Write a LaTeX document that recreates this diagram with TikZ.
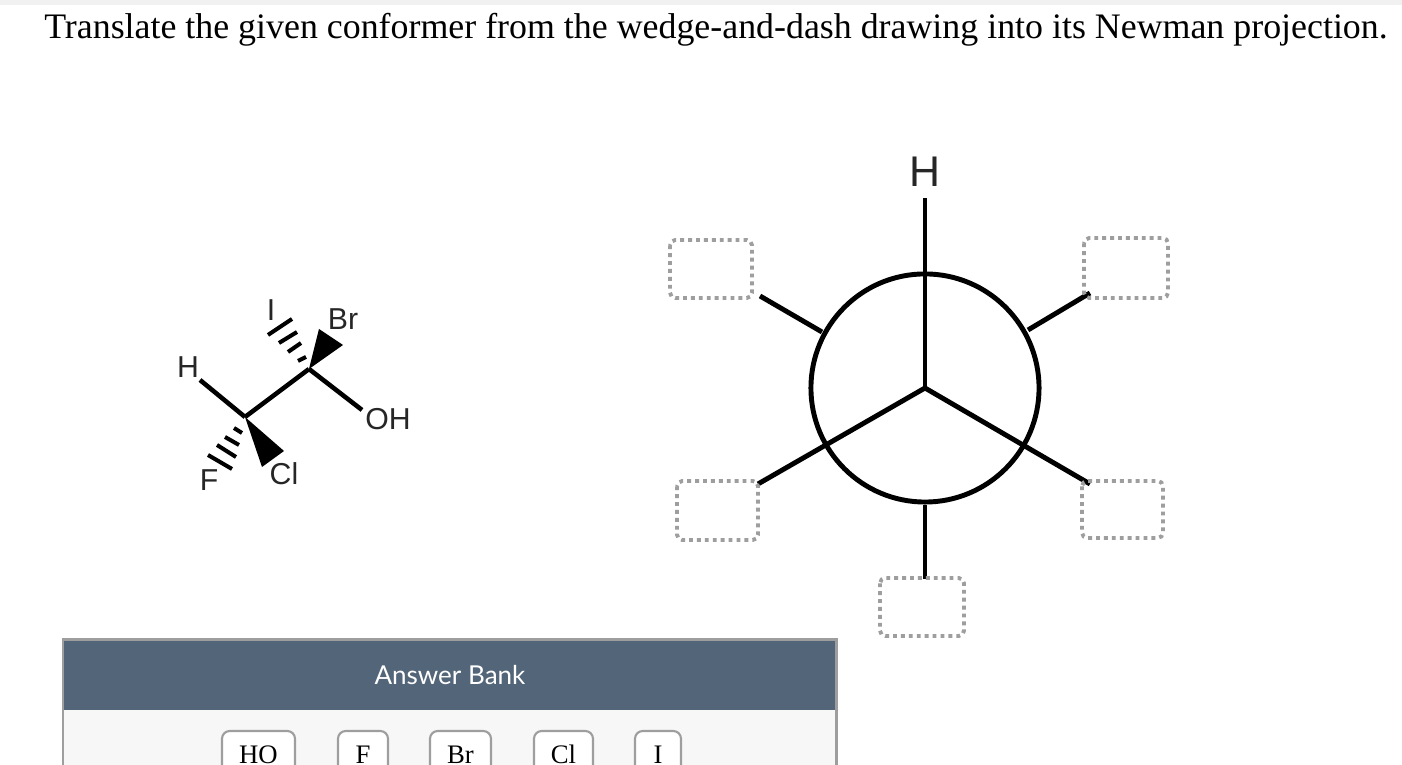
\documentclass[tikz,border=0pt]{standalone}
\usepackage{fontspec}
\setmainfont{Liberation Serif}
\newfontfamily\atomfont{Liberation Sans}
\newfontfamily\bankfont{Lato}
\definecolor{bankhead}{HTML}{526579}
\definecolor{bankbody}{HTML}{F7F7F7}
\definecolor{bankline}{HTML}{9E9E9E}
\definecolor{topstrip}{HTML}{F1F1F1}
\tikzset{
  title/.style={inner sep=0pt, anchor=base, font=\fontsize{10.2}{13}\selectfont},
  atom/.style={inner sep=0pt, font=\atomfont\fontsize{8.6}{10}\selectfont, text=black!85},
  bigatom/.style={inner sep=0pt, font=\atomfont\fontsize{12.2}{14}\selectfont, text=black!85},
  bond/.style={line width=1.3pt, draw=black},
  hash/.style={line width=1.15pt, draw=black},
  spoke/.style={line width=1.4pt, draw=black},
  dropbox/.style={draw=bankline, line width=1.1pt, dash pattern=on 1.1pt off 1.15pt, rounded corners=1.5pt},
  bankbutton/.style={draw=bankline, fill=white, line width=0.6pt, rounded corners=2.2pt},
  banktext/.style={inner sep=0pt, anchor=base, font=\fontsize{7.6}{9}\selectfont},
}
\begin{document}
\begin{tikzpicture}[x=0.01cm, y=-0.01cm]
  \clip (0,0) rectangle (1402,765);
  \fill[white] (0,0) rectangle (1402,765);
  \fill[topstrip] (0,0) rectangle (1402,5);

  \node[title] (question) at (716,39) {Translate the given conformer from the wedge-and-dash drawing into its Newman projection.};

  \coordinate (c1) at (245,417);
  \coordinate (c2) at (309,369);
  \coordinate (hend) at (200,380);
  \coordinate (ohend) at (362,410);
  \coordinate (bra) at (319,329);
  \coordinate (brb) at (343,345);
  \coordinate (cla) at (284,451);
  \coordinate (clb) at (262,467);

  \node[atom] (iatom)  at (271,310) {I};
  \node[atom] (bratom) at (343,319) {Br};
  \node[atom] (hatom)  at (188,367) {H};
  \node[atom] (ohatom) at (388,419) {OH};
  \node[atom] (fatom)  at (209,480) {F};
  \node[atom] (clatom) at (284,474) {Cl};

  \draw[bond] (c1) -- (c2);
  \draw[bond] (c1) -- (hend);
  \draw[bond] (c2) -- (ohend);
  \fill (c2) -- (bra) -- (brb) -- cycle;
  \fill (c1) -- (cla) -- (clb) -- cycle;

  \coordinate (i1a) at (268,335);
  \coordinate (i1b) at (292,319);
  \coordinate (i2a) at (279,343);
  \coordinate (i2b) at (297,332);
  \coordinate (i3a) at (288,352);
  \coordinate (i3b) at (301,343);
  \coordinate (i4a) at (298,361);
  \coordinate (i4b) at (306,357);
  \draw[hash] (i1a) -- (i1b);
  \draw[hash] (i2a) -- (i2b);
  \draw[hash] (i3a) -- (i3b);
  \draw[hash] (i4a) -- (i4b);

  \coordinate (f1a) at (208,455);
  \coordinate (f1b) at (232,469);
  \coordinate (f2a) at (217,445);
  \coordinate (f2b) at (236,457);
  \coordinate (f3a) at (225,437);
  \coordinate (f3b) at (239,445);
  \coordinate (f4a) at (234,428);
  \coordinate (f4b) at (242,433);
  \draw[hash] (f1a) -- (f1b);
  \draw[hash] (f2a) -- (f2b);
  \draw[hash] (f3a) -- (f3b);
  \draw[hash] (f4a) -- (f4b);

  \coordinate (hub) at (925,388);
  \node[circle, draw, line width=1.4pt, minimum size=2.28cm, inner sep=0pt] (rear) at (hub) {};
  \node[bigatom] (htop) at (925,172) {H};

  \coordinate (topend) at (925,198);
  \coordinate (leftfoot) at (758,484);
  \coordinate (rightfoot) at (1090,484);
  \coordinate (ula) at (760,296);
  \coordinate (ulb) at (822,332);
  \coordinate (ura) at (1090,293);
  \coordinate (urb) at (1028,330);
  \coordinate (bota) at (925,505);
  \coordinate (botb) at (925,579);

  \draw[spoke] (hub) -- (topend);
  \draw[spoke] (hub) -- (leftfoot);
  \draw[spoke] (hub) -- (rightfoot);
  \draw[spoke] (ula) -- (ulb);
  \draw[spoke] (ura) -- (urb);
  \draw[spoke] (bota) -- (botb);

  \draw[dropbox] (670,240) rectangle (752,298);
  \draw[dropbox] (1084,238) rectangle (1168,298);
  \draw[dropbox] (677,481) rectangle (758,540);
  \draw[dropbox] (1082,481) rectangle (1163,538);
  \draw[dropbox] (880,578) rectangle (964,636);

  \fill[bankbody] (63,640) rectangle (836,780);
  \fill[bankhead] (63,640) rectangle (836,710);
  \draw[bankline, line width=0.6pt] (63,790) -- (63,639.5) -- (836.5,639.5) -- (836.5,790);
  \node[inner sep=0pt, text=white, font=\bankfont\fontsize{7.4}{9}\selectfont] (bank) at (450,675) {Answer Bank};

  \draw[bankbutton] (222,731) rectangle (295,790);
  \draw[bankbutton] (338,731) rectangle (388,790);
  \draw[bankbutton] (430,731) rectangle (491,790);
  \draw[bankbutton] (534,731) rectangle (593,790);
  \draw[bankbutton] (635,731) rectangle (681,790);
  \node[banktext] (bho) at (258.5,764) {HO};
  \node[banktext] (bf)  at (363,764) {F};
  \node[banktext] (bbr) at (460.5,764) {Br};
  \node[banktext] (bcl) at (563.5,764) {Cl};
  \node[banktext] (bi)  at (658,764) {I};
\end{tikzpicture}
\end{document}
